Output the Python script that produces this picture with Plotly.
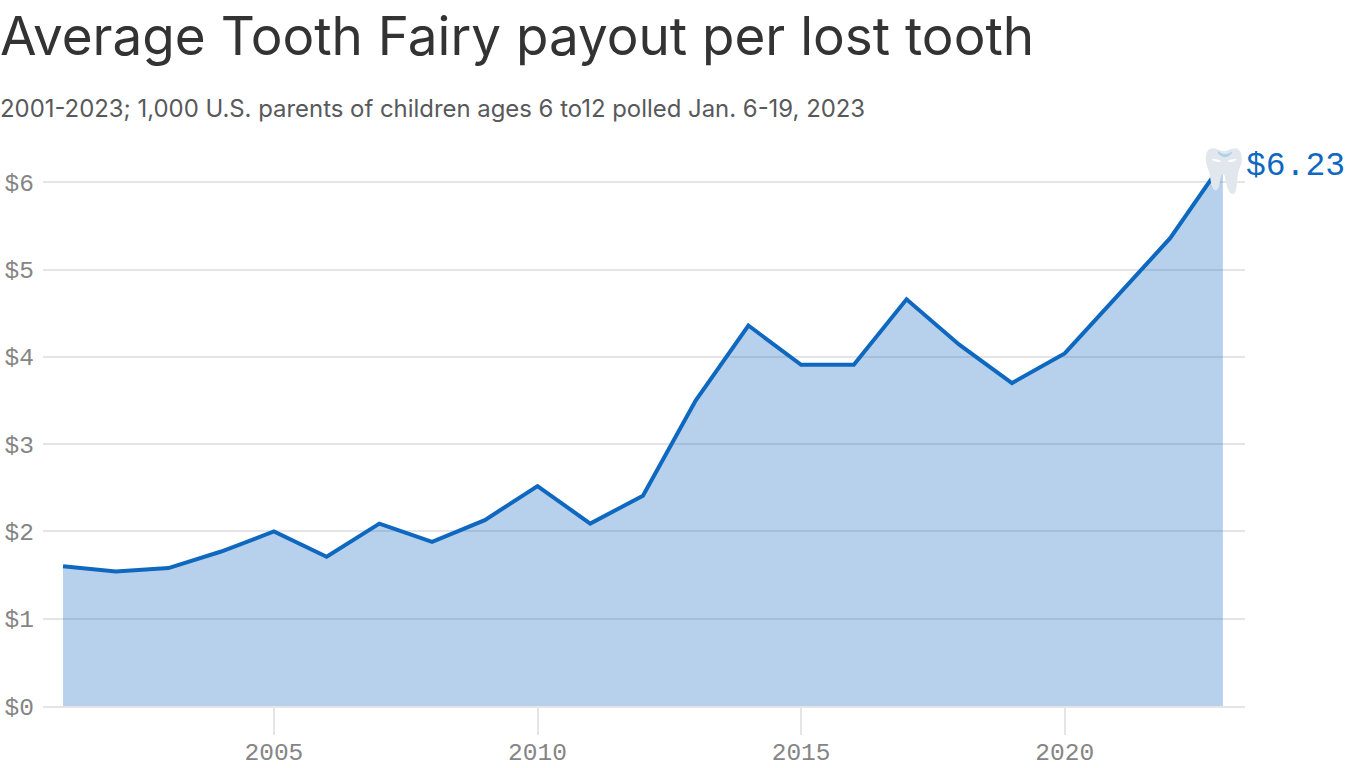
import plotly.graph_objects as go

years = list(range(2001, 2024))
payout = [1.60, 1.54, 1.58, 1.77, 2.00, 1.71, 2.09, 1.88, 2.13, 2.52, 2.09, 2.41,
          3.50, 4.36, 3.91, 3.91, 4.66, 4.14, 3.70, 4.04, 4.70, 5.36, 6.23]
y_ticks = [0, 1, 2, 3, 4, 5, 6]
y_labels = ["$0", "$1", "$2", "$3", "$4", "$5", "$6"]
x_ticks = [2005, 2010, 2015, 2020]
title = "Average Tooth Fairy payout per lost tooth"
subtitle = "2001-2023; 1,000 U.S. parents of children ages 6 to12 polled Jan. 6-19, 2023"
end_label = "$6.23"

BLUE = "#0f68c0"
GRID = "#e3e5e8"
MONO = "Liberation Mono"

fig = go.Figure()
fig.add_trace(go.Scatter(
    x=years, y=payout, mode="lines", fill="tozeroy",
    fillcolor="rgba(15,104,192,0.30)",
    line=dict(color=BLUE, width=4), hoverinfo="x+y", showlegend=False,
))

# Tooth icon, in pixels around the last data point (y points up in pixel mode)
tooth = ("M -10 14 C -16 14 -17 8 -17 3 C -17 -3 -14 -6 -13 -13 C -12 -20 -11 -28 -7 -28 "
         "C -4 -28 -3 -20 -2 -14 C -1 -11 1 -11 2 -14 C 3 -22 6 -32 10 -32 C 14 -32 14 -20 15 -13 "
         "C 16 -6 19 -2 19 3 C 19 9 17 14 12 14 C 7 14 5 11 1 11 C -3 11 -5 14 -10 14 Z")
enamel = "M -5 11 C -2 9 1 8 2 8 C 4 8 7 9 9 11 L 9 9 C 6 6 4 5 2 5 C 0 5 -3 7 -5 9 Z"
shine_l = "M -11 3 C -8 4 -4 3 -1 1 C -4 0 -9 0 -11 3 Z"
shine_r = "M 4 1 C 7 3 11 4 14 3 C 12 0 7 0 4 1 Z"
for path, color in ((tooth, "#e1e7ec"), (enamel, "#a9d4e8"), (shine_l, "#ffffff"), (shine_r, "#ffffff")):
    fig.add_shape(type="path", path=path, xsizemode="pixel", ysizemode="pixel",
                  xanchor=years[-1], yanchor=payout[-1], xref="x", yref="y",
                  fillcolor=color, line=dict(width=0), layer="above")

fig.add_annotation(x=years[-1], y=payout[-1], text=end_label, xanchor="left", yanchor="middle",
                   xshift=21, yshift=-4, showarrow=False, font=dict(family=MONO, size=33, color=BLUE))
fig.add_annotation(xref="paper", yref="paper", x=-45/1202, y=1.0365, text=subtitle, showarrow=False,
                   xanchor="left", yanchor="middle", font=dict(family="Inter", size=23.9, color="#58595b"))

fig.update_layout(
    width=1366, height=768, autosize=False,
    margin=dict(l=43, r=121, t=130, b=62),
    paper_bgcolor="white", plot_bgcolor="white",
    title=dict(text=title, x=0, xref="container", xanchor="left", y=0.953, yanchor="middle",
               font=dict(family="Inter", size=53, color="#333333")),
    xaxis=dict(range=[2000.62, 2023.42], tickmode="array", tickvals=x_ticks, ticks="outside",
               ticklen=27, tickwidth=2, tickcolor=GRID, showgrid=False, zeroline=False,
               showline=True, linecolor=GRID, linewidth=2, automargin=False,
               ticklabelstandoff=-4,
               tickfont=dict(family=MONO, size=24.5, color="#858585")),
    yaxis=dict(range=[0, 6.6], tickmode="array", tickvals=y_ticks, ticktext=y_labels,
               gridcolor=GRID, gridwidth=2, zeroline=False, ticks="", automargin=False,
               ticklabelstandoff=8,
               tickfont=dict(family=MONO, size=24.5, color="#858585")),
)

fig.write_html("out.html", config=dict(displayModeBar=False),
               post_script="document.body.style.margin='0';")
